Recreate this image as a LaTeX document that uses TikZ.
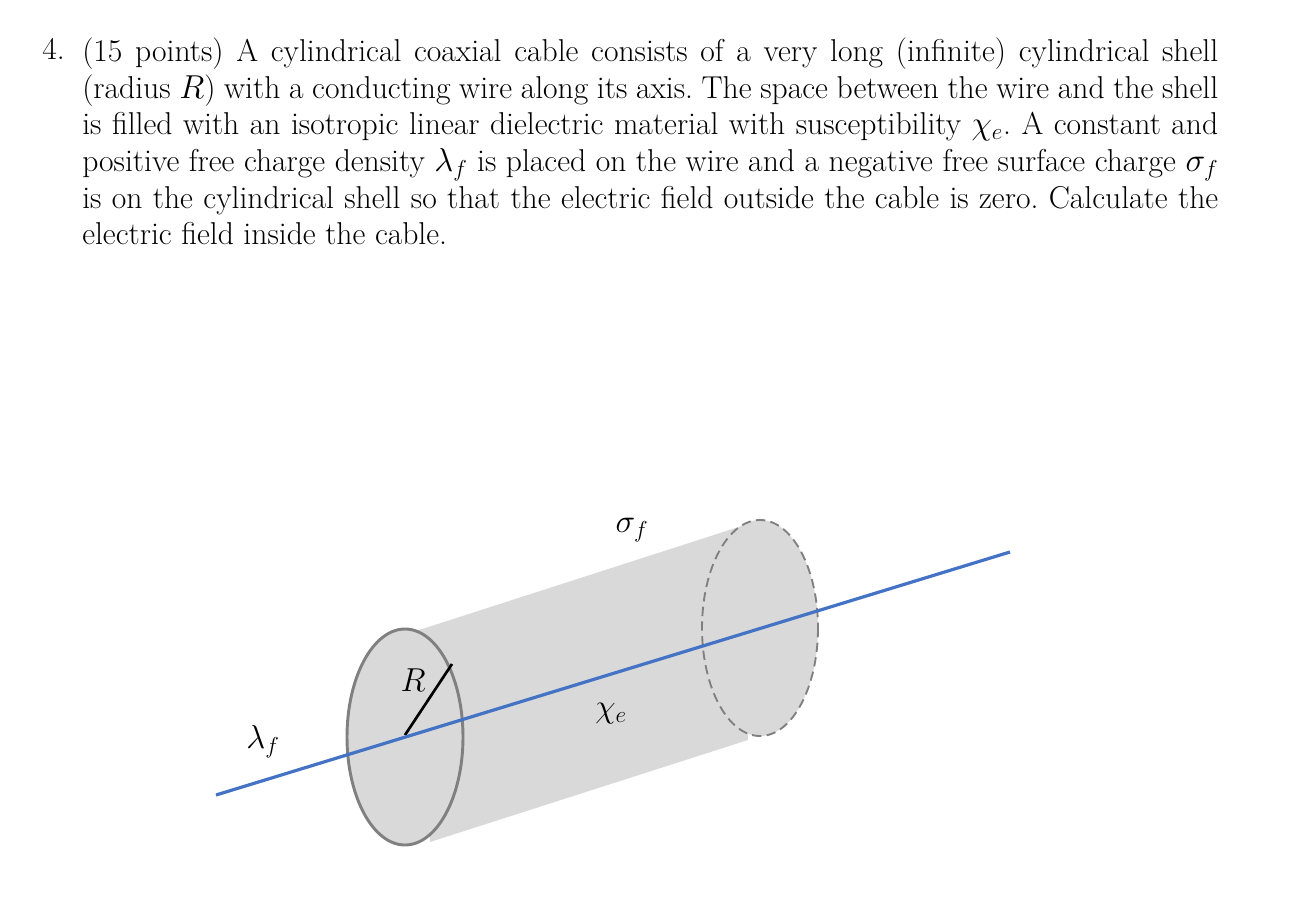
\documentclass[tikz,border=0pt]{standalone}
\definecolor{wireblue}{RGB}{68,114,196}
\definecolor{shellgray}{RGB}{128,128,128}
\definecolor{fillgray}{RGB}{217,217,217}
\begin{document}
\begin{tikzpicture}[x=0.75pt,y=-0.75pt,
  txt/.style={inner sep=0pt,font=\fontsize{23.7}{27.4}\selectfont},
  lbl/.style={inner sep=0pt,font=\fontsize{27}{30}\selectfont},
  wire/.style={draw=wireblue,line width=2.4pt},
  shell/.style={draw=shellgray,line width=2.2pt,fill=fillgray}]
\useasboundingbox (0,0) rectangle (1296,916);
\node[txt,anchor=north west] (num) at (42,38) {4.};
\node[txt,anchor=north west,text width=852pt,align=justify] (para) at (82,38)
{\frenchspacing (15 points) A cylindrical coaxial cable consists of a very long (infinite) cylindrical shell\linebreak
(radius $R$) with a conducting wire along its axis. The space between the wire and the shell\linebreak
is filled with an isotropic linear dielectric material with susceptibility $\chi_e$. A constant and\linebreak
positive free charge density $\lambda_f$ is placed on the wire and a negative free surface charge $\sigma_f$\linebreak
is on the cylindrical shell so that the electric field outside the cable is zero. Calculate the\linebreak
electric field inside the cable.};
\fill[fillgray] (416,631) -- (748,524) -- (748,740) -- (430,842) -- cycle;
\draw[shell,dash pattern=on 7pt off 4pt,line width=1.4pt] (760,628) ellipse [x radius=58,y radius=108];
\draw[shell] (405,737) ellipse [x radius=58,y radius=108];
\coordinate (w1) at (216,795);
\coordinate (w2) at (1010,552);
\coordinate (c0) at (405,735);
\coordinate (r1) at (452,664);
\draw[line width=2pt] (c0) -- (r1);
\draw[wire] (w1) -- (w2);
\node[lbl] (R) at (413,680) {$R$};
\node[lbl] (chi) at (611,714) {$\chi_e$};
\node[lbl] (sig) at (632,530) {$\sigma_f$};
\node[lbl] (lam) at (263,742) {$\lambda_f$};
\end{tikzpicture}
\end{document}
